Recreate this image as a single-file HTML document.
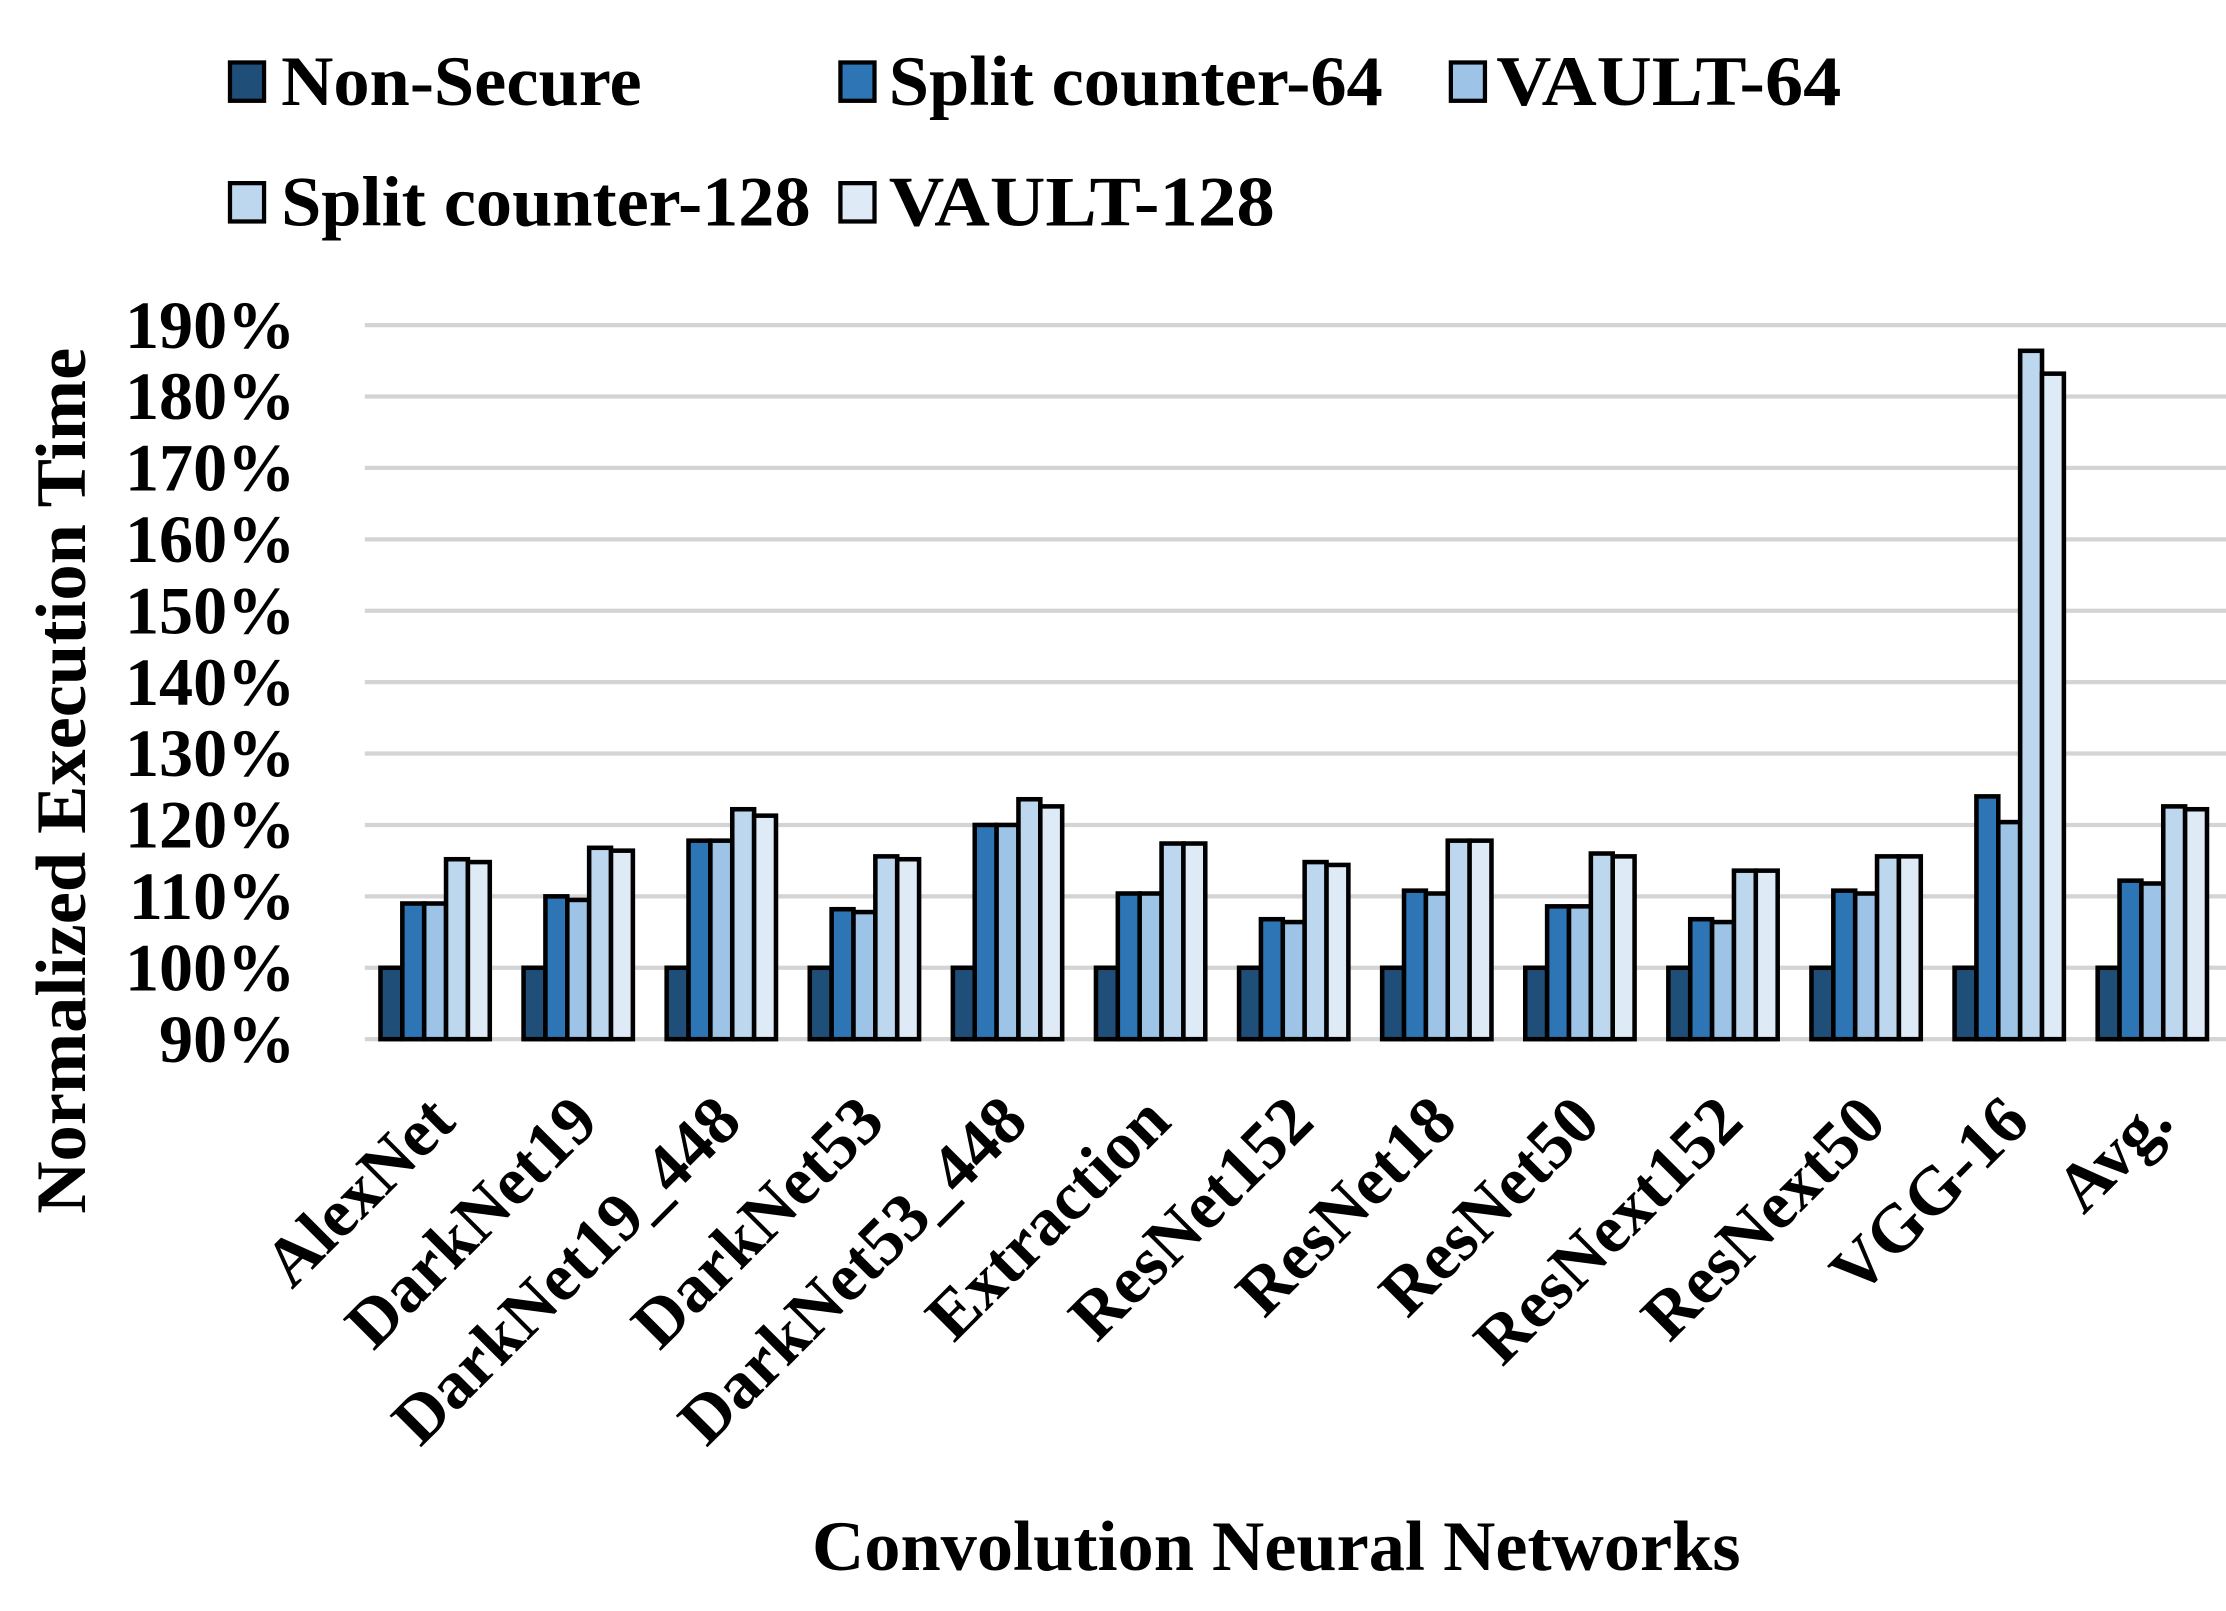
<!DOCTYPE html>
<html><head><meta charset="utf-8"><style>
html,body{margin:0;padding:0;background:#fff;width:2226px;height:1611px;overflow:hidden}
svg{display:block}
text{font-family:"Liberation Serif",serif;font-weight:bold;fill:#000}
</style></head><body>
<svg width="2226" height="1611" viewBox="0 0 1568 1134.8" preserveAspectRatio="none" xmlns="http://www.w3.org/2000/svg">
<g id="grid" stroke="#d4d4d4" stroke-width="3"></g>
<g id="bars" stroke="#000" stroke-width="3.2"></g>
<g id="ylab" font-size="48" text-anchor="end"></g>
<g id="xlab" font-size="48" text-anchor="end"></g>
<text x="0" y="0" font-size="50" text-anchor="middle" textLength="610" lengthAdjust="spacingAndGlyphs" transform="translate(60,550) rotate(-90)">Normalized Execution Time</text>
<text x="572" y="1106" font-size="50" textLength="654" lengthAdjust="spacingAndGlyphs">Convolution Neural Networks</text>
<g font-size="50">
<rect x="162" y="44" width="24" height="27" fill="#1f4e79" stroke="#000" stroke-width="3"/><text x="198" y="74" textLength="254" lengthAdjust="spacingAndGlyphs">Non-Secure</text>
<rect x="592" y="44" width="24" height="27" fill="#2e75b6" stroke="#000" stroke-width="3"/><text x="626" y="74" textLength="348" lengthAdjust="spacingAndGlyphs">Split counter-64</text>
<rect x="1022" y="44" width="24" height="27" fill="#9dc3e6" stroke="#000" stroke-width="3"/><text x="1054" y="74" textLength="243" lengthAdjust="spacingAndGlyphs">VAULT-64</text>
<rect x="162" y="129" width="24" height="27" fill="#bdd7ee" stroke="#000" stroke-width="3"/><text x="198" y="159" textLength="373" lengthAdjust="spacingAndGlyphs">Split counter-128</text>
<rect x="592" y="129" width="24" height="27" fill="#deebf7" stroke="#000" stroke-width="3"/><text x="626" y="159" textLength="272" lengthAdjust="spacingAndGlyphs">VAULT-128</text>
</g>
</svg>
<script>
const ns="http://www.w3.org/2000/svg";
function el(p,t,a,txt){const e=document.createElementNS(ns,t);for(const k in a)e.setAttribute(k,a[k]);if(txt)e.textContent=txt;document.getElementById(p).appendChild(e);}
const Y=v=>732-(v-90)*5.03;
for(let v=90;v<=190;v+=10){el("grid","line",{x1:257,x2:1568,y1:Y(v),y2:Y(v)});el("ylab","text",{x:208,y:Y(v)+16},v+"%");}
const cols=["#1f4e79","#2e75b6","#9dc3e6","#bdd7ee","#deebf7"];
const data=[["AlexNet",[100,109,109,115.2,114.8]],["DarkNet19",[100,110,109.5,116.8,116.4]],["DarkNet19_448",[100,117.8,117.8,122.2,121.3]],["DarkNet53",[100,108.2,107.8,115.6,115.2]],["DarkNet53_448",[100,120,120,123.6,122.6]],["Extraction",[100,110.4,110.4,117.4,117.4]],["ResNet152",[100,106.8,106.4,114.8,114.4]],["ResNet18",[100,110.8,110.4,117.8,117.8]],["ResNet50",[100,108.6,108.6,116,115.6]],["ResNext152",[100,106.8,106.4,113.6,113.6]],["ResNext50",[100,110.8,110.4,115.6,115.6]],["VGG-16",[100,124,120.4,186.4,183.2]],["Avg.",[100,112.2,111.8,122.6,122.2]]];
data.forEach((d,i)=>{const x0=268+i*100.8;d[1].forEach((v,j)=>{el("bars","rect",{x:x0+j*15.4,y:Y(v),width:15.4,height:Y(90)-Y(v),fill:cols[j]});});
const cx=x0+38.5+16,cy=792;el("xlab","text",{x:0,y:0,transform:`translate(${cx},${cy}) rotate(-45)`},d[0]);});
</script>
</body></html>
